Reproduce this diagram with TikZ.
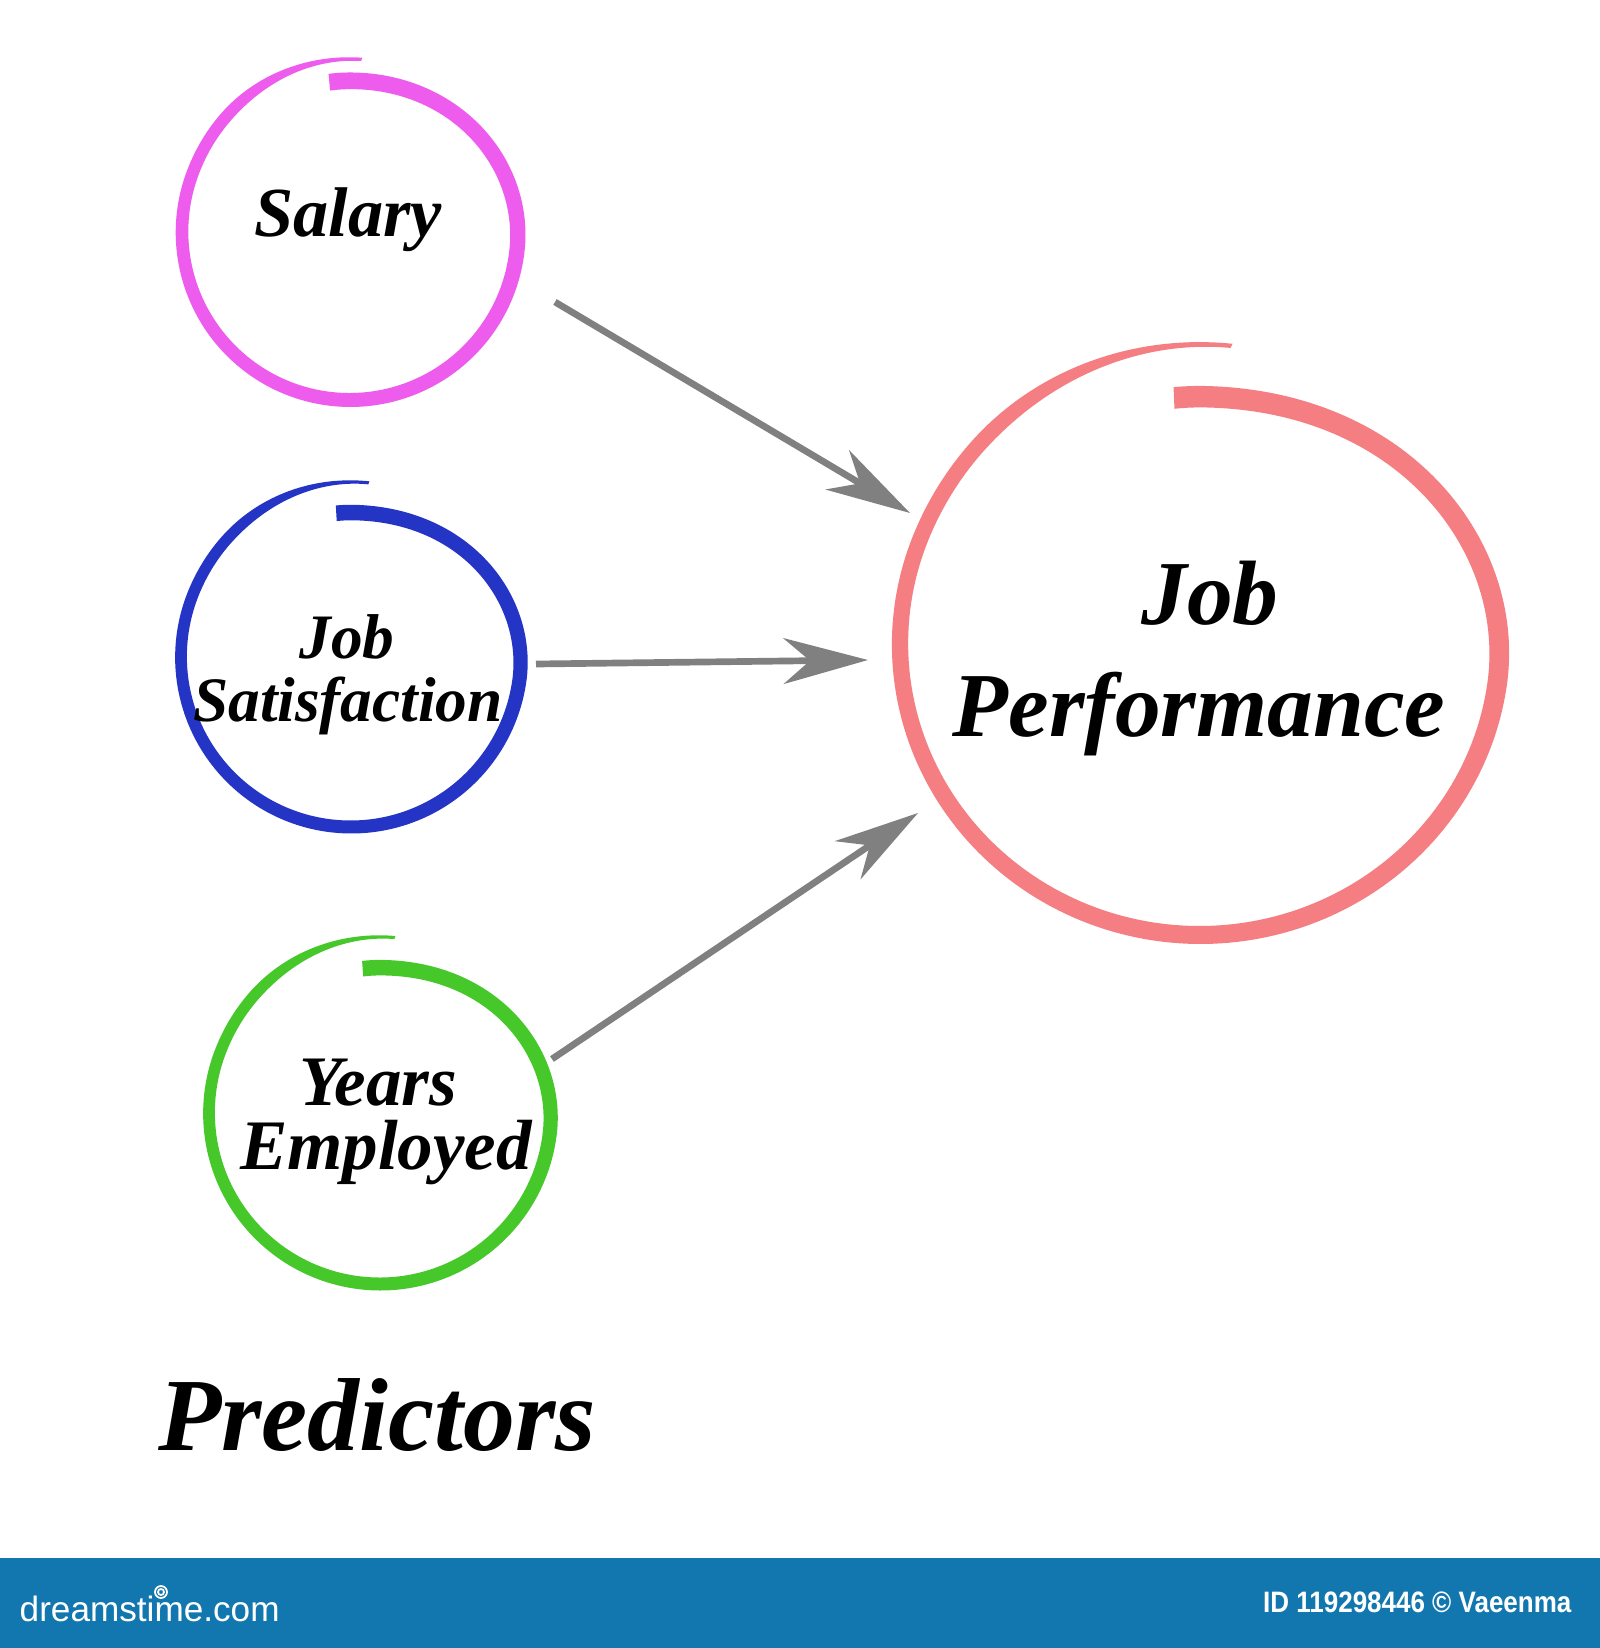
\documentclass[tikz,border=0pt]{standalone}
\usepackage{fontspec}
\setmainfont{Liberation Serif}
\newfontfamily\bannerfont{Liberation Sans}
\usetikzlibrary{arrows.meta}
\definecolor{salcol}{HTML}{EE5CEE}
\definecolor{satcol}{HTML}{2434C4}
\definecolor{yrscol}{HTML}{46C82A}
\definecolor{jpcol}{HTML}{F47E82}
\definecolor{arrcol}{HTML}{808080}
\definecolor{bancol}{HTML}{1377AF}
\newcommand{\fsz}[1]{\fontsize{#1}{#1}\selectfont\bfseries\itshape}
% #1 cx, #2 cy, #3 rx, #4 ry, #5 start angle, #6 width, #7 curl, #8 colour
\newcommand{\brushring}[8]{%
  \fill[#8] plot[domain=0:1,samples=240,variable=\brushu]
    ({#1+((#3)*kk(\brushu,#7)+ww(\brushu,#6)/2)*cos(#5+372*\brushu)},
     {#2-((#4)*kk(\brushu,#7)+ww(\brushu,#6)/2)*sin(#5+372*\brushu)})
    -- plot[domain=1:0,samples=240,variable=\brushu]
    ({#1+((#3)*kk(\brushu,#7)-ww(\brushu,#6)/2)*cos(#5+372*\brushu)},
     {#2-((#4)*kk(\brushu,#7)-ww(\brushu,#6)/2)*sin(#5+372*\brushu)})
    -- cycle;}
\begin{document}
\begin{tikzpicture}[x=0.01cm,y=-0.01cm,
  declare function={
    clampz(\a)=min(1,max(0,\a));
    sst(\a)=clampz(\a)*clampz(\a)*(3-2*clampz(\a));
    kk(\a,\c)=1+0.03*(1-sst(\a/0.2))-\c*sst((\a-0.72)/0.26);
    ww(\a,\w)=\w*(0.3+0.7*sst(\a/0.14))*(0.8+0.4*\a);
  },
  ring/.style={circle,inner sep=0pt},
  lbl/.style={inner sep=0pt,anchor=base,text=black},
  toplbl/.style={lbl,text depth=0pt},
  botlbl/.style={lbl,text height=0.62em},
  arr/.style={draw=arrcol,line width=1.9pt,-{Stealth[length=24pt,width=13pt,inset=7.5pt]}}
]
\fill[white] (0,0) rectangle (1600,1648);
\useasboundingbox (0,0) rectangle (1600,1648);

% brush rings
\brushring{350}{232}{168}{168}{86}{14}{0.10}{salcol}
\brushring{351}{657}{170}{170}{84}{13}{0.15}{satcol}
\brushring{380}{1113}{171}{171}{85}{13}{0.15}{yrscol}
\brushring{1200}{644}{300}{291}{84}{18}{0.15}{jpcol}

% named circle nodes
\node[ring,minimum size=3.36cm] (sal) at (350,232) {};
\node[ring,minimum size=3.40cm] (sat) at (351,657) {};
\node[ring,minimum size=3.42cm] (yrs) at (380,1113) {};
\node[ring,minimum size=5.90cm] (jp) at (1200,644) {};

% labels
\node[lbl,font=\fsz{20pt}] (saltxt) at (348,236) {Salary};
\node[toplbl,font=\fsz{18pt}] (sattxt1) at (347,658) {Job};
\node[botlbl,font=\fsz{18pt}] (sattxt2) at (348,721) {Satisfaction};
\node[toplbl,font=\fsz{20.2pt}] (yrstxt1) at (378,1105) {Years};
\node[botlbl,font=\fsz{20.2pt}] (yrstxt2) at (386,1169) {Employed};
\node[lbl,font=\fsz{26pt}] (jptxt1) at (1210,624) {Job};
\node[lbl,font=\fsz{26pt}] (jptxt2) at (1199,736) {Performance};
\node[lbl,font=\fsz{29.5pt}] (pred) at (377,1450) {Predictors};

% arrows
\coordinate (a1s) at (555,302);
\coordinate (a1e) at (910,513);
\coordinate (a2s) at (536,664);
\coordinate (a2e) at (868,660);
\coordinate (a3s) at (552,1059);
\coordinate (a3e) at (918,813);
\draw[arr] (a1s) -- (a1e);
\draw[arr] (a2s) -- (a2e);
\draw[arr] (a3s) -- (a3e);

% banner
\fill[bancol] (0,1558) rectangle (1600,1648);
\node[anchor=base west,inner sep=0pt,text=white,font=\bannerfont\fontsize{10pt}{10pt}\selectfont] (dtxt) at (19,1621) {dreamstime.com};
\draw[white,line width=0.5pt] (161,1592) circle (6) (161,1592) circle (3);
\node[anchor=base east,inner sep=0pt,text=white,xscale=0.88,font=\bannerfont\bfseries\fontsize{8.4pt}{8.4pt}\selectfont] (idtxt) at (1572,1612) {ID 119298446 © Vaeenma};
\end{tikzpicture}
\end{document}
